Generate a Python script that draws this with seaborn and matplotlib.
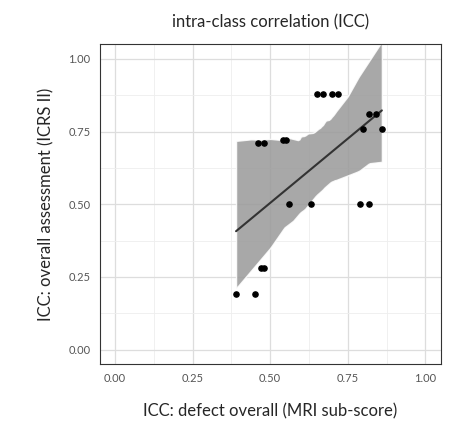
import numpy as np
import pandas as pd
import matplotlib.pyplot as plt
import seaborn as sns

icc_defect = [0.39, 0.45, 0.47, 0.48, 0.46, 0.48, 0.54, 0.55, 0.56, 0.63,
              0.65, 0.67, 0.70, 0.72, 0.79, 0.82, 0.80, 0.86, 0.82, 0.84]
icc_overall = [0.19, 0.19, 0.28, 0.28, 0.71, 0.71, 0.72, 0.72, 0.50, 0.50,
               0.88, 0.88, 0.88, 0.88, 0.50, 0.50, 0.76, 0.76, 0.81, 0.81]
ticks = [0.0, 0.25, 0.5, 0.75, 1.0]
tick_labels = ["0.00", "0.25", "0.50", "0.75", "1.00"]

df = pd.DataFrame({"x": icc_defect, "y": icc_overall})

sns.set_style("whitegrid")
plt.rcParams["font.family"] = ["Lato", "DejaVu Sans"]

fig, ax = plt.subplots(figsize=(4.74, 4.44), dpi=100)
fig.subplots_adjust(left=0.21, right=0.93, top=0.90, bottom=0.18)

sns.regplot(data=df, x="x", y="y", ax=ax, ci=99, truncate=True,
            scatter_kws=dict(color="black", s=14, alpha=1, zorder=3),
            line_kws=dict(color="#333333", lw=1.5))
for coll in ax.collections[1:]:
    coll.set_facecolor("#999999")
    coll.set_alpha(0.85)

ax.set_xlim(-0.05, 1.05)
ax.set_ylim(-0.05, 1.05)
ax.set_xticks(ticks)
ax.set_xticklabels(tick_labels)
ax.set_yticks(ticks)
ax.set_yticklabels(tick_labels)
ax.tick_params(labelsize=8, colors="#555555", length=3)
ax.set_xticks([0.125, 0.375, 0.625, 0.875], minor=True)
ax.set_yticks([0.125, 0.375, 0.625, 0.875], minor=True)
ax.grid(True, which="major", color="#dddddd", lw=0.9)
ax.grid(True, which="minor", color="#eeeeee", lw=0.6)
for s in ax.spines.values():
    s.set_color("#333333")
    s.set_linewidth(0.8)

ax.set_title("intra-class correlation (ICC)", fontsize=12, pad=12)
ax.set_xlabel("ICC: defect overall (MRI sub-score)", fontsize=12, labelpad=14)
ax.set_ylabel("ICC: overall assessment (ICRS II)", fontsize=12, labelpad=10)

fig.savefig("out.png", dpi=100)
